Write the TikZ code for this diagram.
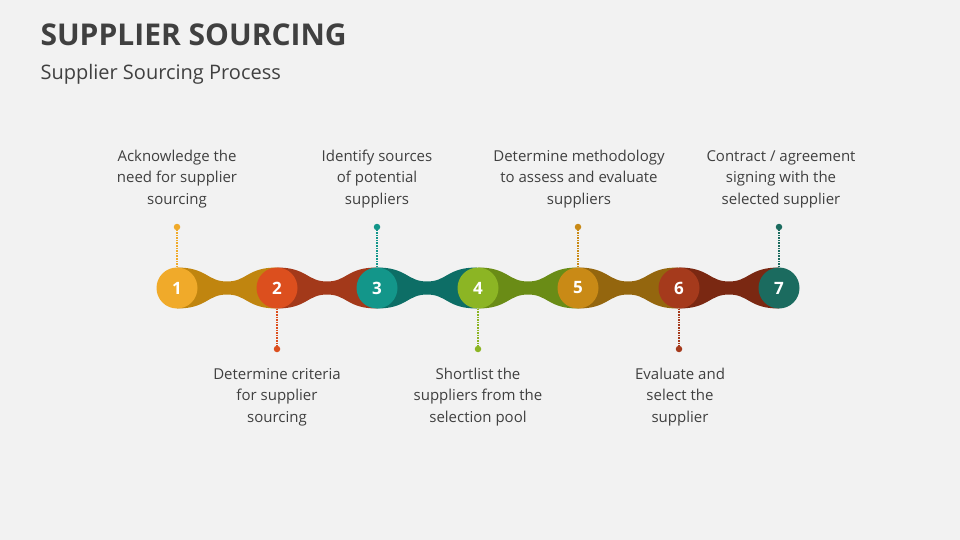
\documentclass[tikz,border=0pt]{standalone}
\usepackage{fontspec}
\setmainfont{Open Sans}
\newfontfamily\numf{Open Sans Bold}
\definecolor{bg}{HTML}{F2F2F2}
\definecolor{txt}{HTML}{404040}
\definecolor{c1}{HTML}{F0AA2A}\definecolor{d1}{HTML}{C0850F}
\definecolor{c2}{HTML}{DC4F1E}\definecolor{d2}{HTML}{A3391A}
\definecolor{c3}{HTML}{13968A}\definecolor{d3}{HTML}{0D6E66}
\definecolor{c4}{HTML}{8CB524}\definecolor{d4}{HTML}{6A8C16}
\definecolor{c5}{HTML}{C98A16}\definecolor{d5}{HTML}{94660E}
\definecolor{c6}{HTML}{A53A1C}\definecolor{d6}{HTML}{7A2812}
\definecolor{c7}{HTML}{1B6B5F}
\tikzset{num/.style={circle,minimum size=41pt,inner sep=0pt,text=white,font=\numf\fontsize{17}{17}\selectfont},
lab/.style={align=center,text=txt,font=\fontsize{15}{21.5}\selectfont},
dl/.style={densely dotted,line width=1.6pt},
dt/.style={circle,inner sep=0pt,minimum size=6.5pt}}
\begin{document}
\begin{tikzpicture}[x=1pt,y=-1pt]
\useasboundingbox[fill=bg] (0,0) rectangle (960,540);
\node[anchor=west,text=txt,font=\bfseries\fontsize{30}{30}\selectfont] (title) at (37,35) {SUPPLIER SOURCING};
\node[anchor=west,text=txt,font=\fontsize{20}{20}\selectfont] (sub) at (37,74) {Supplier Sourcing Process};
\foreach \i/\x in {1/177,2/277,3/377,4/478,5/578,6/679}{
  \fill[d\i] (\x,267.5) .. controls (\x+30,267.5) and (\x+30,281.5) .. (\x+50,281.5)
    .. controls (\x+70,281.5) and (\x+70,267.5) .. (\x+100,267.5) -- (\x+100,308.5)
    .. controls (\x+70,308.5) and (\x+70,294.5) .. (\x+50,294.5)
    .. controls (\x+30,294.5) and (\x+30,308.5) .. (\x,308.5) -- cycle;
}
\foreach \i/\x in {1/177,2/277,3/377,4/478,5/578,6/679,7/779}{
  \node[num,fill=c\i] (n\i) at (\x,288) {\i};
}
\foreach \i/\x in {1/177,3/377,5/578,7/779}{
  \node[dt,fill=c\i] (p\i) at (\x,227) {};
  \draw[dl,c\i] (n\i.north) -- (p\i);
}
\foreach \i/\x in {2/277,4/478,6/679}{
  \node[dt,fill=c\i] (p\i) at (\x,349) {};
  \draw[dl,c\i] (n\i.south) -- (p\i);
}
\node[lab] (t1) at (177,179) {Acknowledge the\\need for supplier\\sourcing};
\node[lab] (t3) at (377,179) {Identify sources\\of potential\\suppliers};
\node[lab] (t5) at (579,179) {Determine methodology\\to assess and evaluate\\suppliers};
\node[lab] (t7) at (781,179) {Contract / agreement\\signing with the\\selected supplier};
\node[lab] (t2) at (277,397) {Determine criteria\\for supplier\\sourcing};
\node[lab] (t4) at (478,397) {Shortlist the\\suppliers from the\\selection pool};
\node[lab] (t6) at (680,397) {Evaluate and\\select the\\supplier};
\end{tikzpicture}
\end{document}
